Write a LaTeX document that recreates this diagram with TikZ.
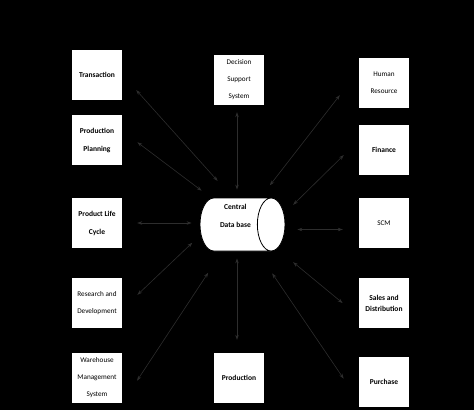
\documentclass[tikz,border=0pt]{standalone}
\usepackage{fontspec}
\setmainfont{Carlito}
\usetikzlibrary{shapes.geometric,arrows.meta}

\tikzset{
  >={Stealth[length=5pt,width=3.5pt]},
  box/.style={rectangle,fill=white,minimum width=50pt,minimum height=50pt,
    inner sep=0pt,align=center,font=\fontsize{7.5}{18}\selectfont\bfseries},
  thinbox/.style={box,font=\fontsize{7.2}{17}\selectfont},
  tightbox/.style={box,font=\fontsize{7.5}{11}\selectfont\bfseries},
  dbase/.style={cylinder,aspect=0.67,draw=black,fill=white,line width=0.8pt,minimum width=53pt,
    minimum height=85pt,inner sep=0pt,align=center,font=\fontsize{7.5}{18}\selectfont\bfseries},
  link/.style={<->,draw=gray!35!black,line width=0.6pt}
}

\begin{document}
\begin{tikzpicture}[x=1pt,y=-1pt]
    \fill[black] (0,0) rectangle (474,410);
    %data base in the middle
    \node[dbase,anchor=shape center] (db) at (242.5,224.5) {Central\\Data base\\ };
    %left column
    \node[box] (trans) at (97,74.5) {Transaction};
    \node[box] (plan) at (97,140) {Production\\Planning};
    \node[box] (plc) at (97,223) {Product Life\\Cycle};
    \node[thinbox] (rd) at (97,303) {Research and\\Development};
    \node[thinbox] (wms) at (97,378) {Warehouse\\Management\\System};
    %middle column
    \node[thinbox] (dss) at (239,80) {Decision\\Support\\System};
    \node[box] (prod) at (239,378) {Production};
    %right column
    \node[thinbox] (hr) at (384,83) {Human\\Resource};
    \node[box] (fin) at (384,150) {Finance};
    \node[thinbox] (scm) at (384,223) {SCM};
    \node[tightbox] (sd) at (384,303) {Sales and\\Distribution};
    \node[box] (pur) at (384,382) {Purchase};
    %links to the data base
    \draw[link,shorten <=21pt,shorten >=23pt] (trans.east) -- ([xshift=-9.5pt,yshift=26.5pt]db.shape center);
    \draw[link,shorten <=19pt,shorten >=13pt] (plan.20) -- ([xshift=-30.5pt,yshift=26pt]db.shape center);
    \draw[link,shorten <=7pt,shorten >=8pt] ([xshift=-2pt]dss.south) -- ([xshift=-2pt]dss.south |- db.north);
    \draw[link,shorten <=31pt,shorten >=16pt] (hr.154) -- ([xshift=17.5pt,yshift=26.5pt]db.shape center);
    \draw[link,shorten <=21pt,shorten >=13pt] (fin.159) -- ([xshift=41.4pt,yshift=10.6pt]db.shape center);
    \draw[link,shorten <=15pt,shorten >=8pt] (plc.east) -- (plc.east -| db.west);
    \draw[link,shorten <=12pt,shorten >=16pt] ([yshift=-5pt]db.east) -- ([yshift=-5pt]db.east -| scm.west);
    \draw[link,shorten <=21pt,shorten >=12pt] (rd.-14) -- ([xshift=-41.5pt,yshift=-10pt]db.shape center);
    \draw[link,shorten <=27pt,shorten >=26pt] (wms.south east) -- ([xshift=-20pt,yshift=-26.5pt]db.shape center);
    \draw[link,shorten <=13pt,shorten >=7pt] ([xshift=-2pt]prod.north) -- ([xshift=-2pt]prod.north |- db.south);
    \draw[link,shorten <=21pt,shorten >=21pt] (sd.208) -- ([xshift=34.4pt,yshift=-24.3pt]db.shape center);
    \draw[link,shorten <=27pt,shorten >=27pt] (pur.217) -- ([xshift=14.5pt,yshift=-26.5pt]db.shape center);
\end{tikzpicture}
\end{document}
